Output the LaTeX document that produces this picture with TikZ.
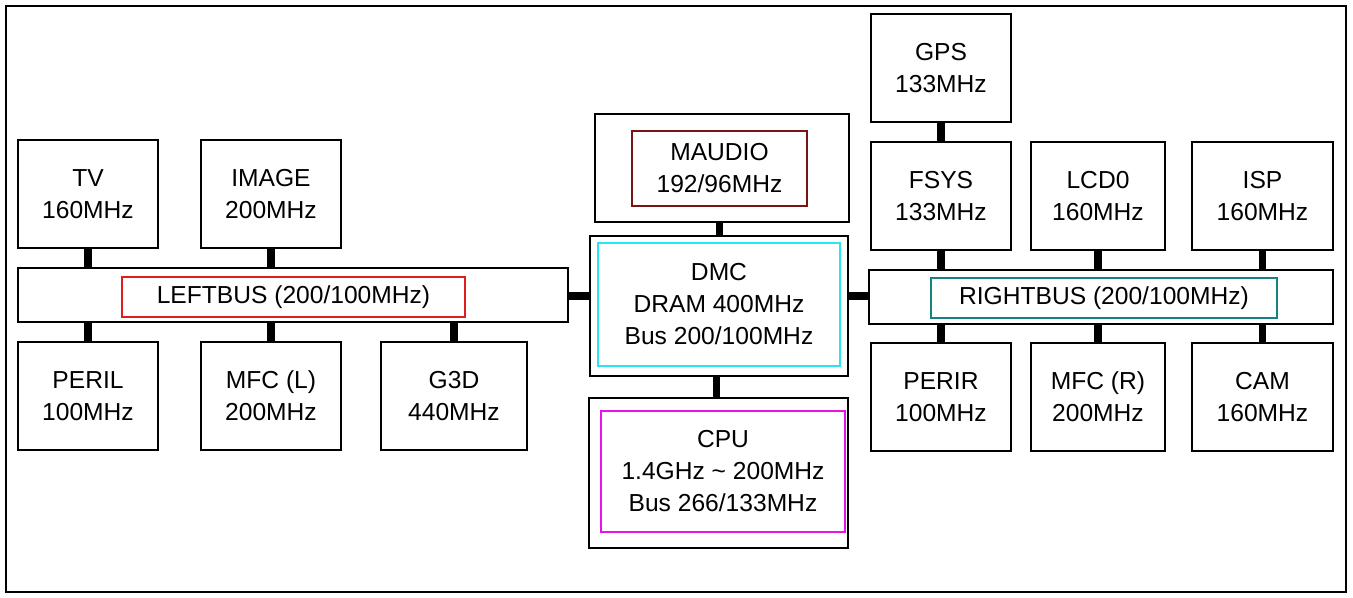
\documentclass[tikz,border=0pt]{standalone}
\usepackage{fontspec}
\setmainfont{Liberation Sans}
\usetikzlibrary{fit}
\definecolor{cy}{RGB}{40,230,240}
\definecolor{mg}{RGB}{230,20,230}
\definecolor{dr}{RGB}{120,20,20}
\definecolor{tl}{RGB}{20,130,130}
\definecolor{rd}{RGB}{220,30,30}
\begin{document}
\begin{tikzpicture}[x=0.02cm,y=-0.02cm,
  box/.style={draw=black,line width=1.1pt,inner sep=0pt,align=center},
  conn/.style={line width=4pt}]
\useasboundingbox (0,0) rectangle (1353,598);
\draw[line width=0.8pt] (6,6) rectangle (1346,592);
\newcommand\bx[6][black]{\node[box,draw=#1,fit={(#3,#4) (#5,#6)}] (#2) {};}
\newcommand\tx[2]{\node[align=center,font=\fontsize{14}{18.2}\selectfont] at (#1) {#2};}
% left
\bx{tv}{18}{140}{158}{248}\tx{tv}{TV\\160MHz}
\bx{img}{201}{140}{341}{248}\tx{img}{IMAGE\\200MHz}
\bx{lb}{18}{268}{568}{322}
\bx[rd]{lbi}{122}{277}{465}{317}\tx{lbi}{LEFTBUS (200/100MHz)}
\bx{peril}{18}{342}{158}{450}\tx{peril}{PERIL\\100MHz}
\bx{mfcl}{201}{342}{341}{450}\tx{mfcl}{MFC (L)\\200MHz}
\bx{g3d}{381}{342}{527}{450}\tx{g3d}{G3D\\440MHz}
% center
\bx{mau}{595}{114}{849}{222}
\bx[dr]{maui}{632}{131}{807}{206}\tx{maui}{MAUDIO\\192/96MHz}
\bx{dmc}{590}{236}{848}{376}
\bx[cy]{dmci}{598}{243}{840}{366}\tx{dmci}{DMC\\DRAM 400MHz\\Bus 200/100MHz}
\bx{cpu}{589}{398}{848}{548}
\bx[mg]{cpui}{601}{411}{845}{532}\tx{cpui}{CPU\\1.4GHz \char`~\ 200MHz\\Bus 266/133MHz}
% right
\bx{gps}{871}{14}{1011}{122}\tx{gps}{GPS\\133MHz}
\bx{fsys}{871}{142}{1011}{250}\tx{fsys}{FSYS\\133MHz}
\bx{lcd}{1031}{142}{1165}{250}\tx{lcd}{LCD0\\160MHz}
\bx{isp}{1192}{142}{1333}{250}\tx{isp}{ISP\\160MHz}
\bx{rb}{869}{270}{1333}{324}
\bx[tl]{rbi}{931}{278}{1277}{318}\tx{rbi}{RIGHTBUS (200/100MHz)}
\bx{perir}{871}{343}{1011}{451}\tx{perir}{PERIR\\100MHz}
\bx{mfcr}{1031}{343}{1165}{451}\tx{mfcr}{MFC (R)\\200MHz}
\bx{cam}{1192}{343}{1333}{451}\tx{cam}{CAM\\160MHz}
% connectors
\foreach \n in {tv,img}{\draw[conn] (\n.south) -- (\n.south |- lb.north);}
\foreach \n in {peril,mfcl,g3d}{\draw[conn] (\n.north) -- (\n.north |- lb.south);}
\foreach \n in {fsys,lcd,isp}{\draw[conn] (\n.south) -- (\n.south |- rb.north);}
\foreach \n in {perir,mfcr,cam}{\draw[conn] (\n.north) -- (\n.north |- rb.south);}
\draw[conn] (gps.south) -- (fsys.north);
\draw[conn] (lb.east |- 0,296) -- (dmc.west |- 0,296);
\draw[conn] (dmc.east |- 0,296) -- (rb.west |- 0,296);
\draw[conn] ([xshift=-1.5]mau.south) -- ([xshift=-1.5]mau.south |- dmc.north);
\draw[conn] ([xshift=-1.5]dmc.south) -- ([xshift=-1.5]dmc.south |- cpu.north);
\end{tikzpicture}
\end{document}
